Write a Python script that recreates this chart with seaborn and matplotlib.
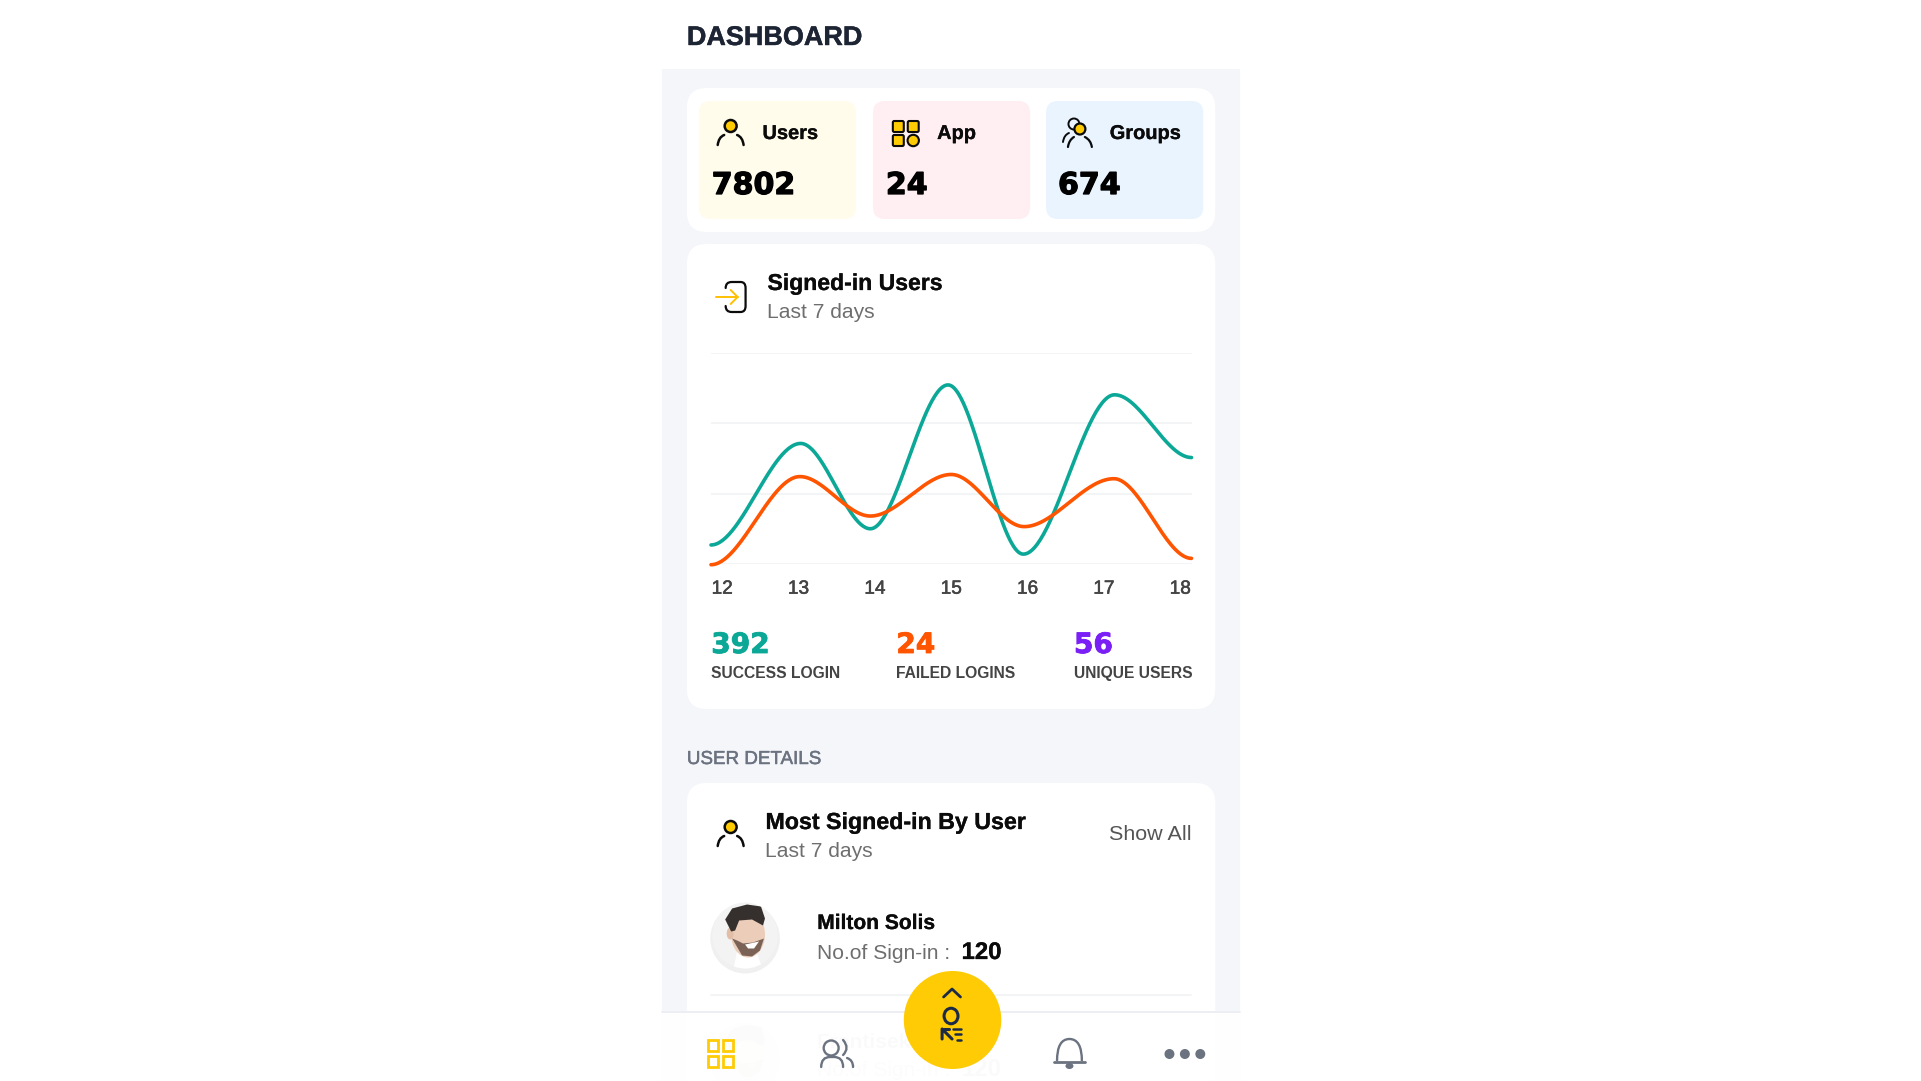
import numpy as np
import pandas as pd
import matplotlib
matplotlib.use("Agg")
import matplotlib.pyplot as plt
import seaborn as sns
from matplotlib.patches import FancyBboxPatch, Circle, Ellipse, PathPatch, Polygon
from matplotlib.path import Path
import matplotlib.patheffects as pe

# ---- data ----
tile_labels = ["Users", "App", "Groups"]
tile_values = ["7802", "24", "674"]
day_labels = ["12", "13", "14", "15", "16", "17", "18"]
success_days = [12.0, 13.12, 13.99, 14.96, 15.90, 17.04, 18.0]
success_vals = [27, 171, 50, 254, 14, 240, 151]
failed_days = [12.0, 13.11, 13.99, 15.0, 15.91, 17.03, 18.0]
failed_vals = [-1, 124, 68, 127, 53, 121, 8]
grid_vals = [0, 100, 200, 300]
stat_values = ["392", "24", "56"]
stat_labels = ["SUCCESS LOGIN", "FAILED LOGINS", "UNIQUE USERS"]

TEAL, ORANGE, PURPLE = "#0CA897", "#FF5400", "#7A1FF6"
YEL = "#FFCB05"
INK = "#0B0B0B"
GREY = "#6E6E6E"
NAVY = "#1C2B45"
SLATE = "#6B7280"

sns.set_theme(style="white")
plt.rcParams["font.family"] = ["Liberation Sans", "DejaVu Sans"]

W, H = 1921, 1081
fig = plt.figure(figsize=(W / 100, H / 100), dpi=100, facecolor="white")

def overlay(z):
    a = fig.add_axes([0, 0, 1, 1], zorder=z)
    a.set_xlim(-3.3, 1927.3)
    a.set_ylim(H, 0)
    a.axis("off")
    a.patch.set_alpha(0)
    return a

bg = overlay(0)
top = overlay(2)

def rrect(a, x0, y0, x1, y1, r, fc, **k):
    p = FancyBboxPatch((x0 + r, y0 + r), x1 - x0 - 2 * r, y1 - y0 - 2 * r,
                       boxstyle=f"round,pad={r},rounding_size={r}", fc=fc, ec="none", **k)
    a.add_patch(p)
    return p

def txt(a, x, y, s, px, color=INK, weight="normal", heavy=0.0, ha="left", **k):
    t = a.text(x, y, s, fontsize=px * 0.72, color=color, fontweight=weight,
               ha=ha, va="baseline", **k)
    if heavy:
        t.set_path_effects([pe.withStroke(linewidth=heavy, foreground=color)])
    return t

def curve(a, p0, c, p1, color=INK, lw=2.2, **k):
    a.add_patch(PathPatch(Path([p0, c, p1], [Path.MOVETO, Path.CURVE3, Path.CURVE3]),
                          fc="none", ec=color, lw=lw, capstyle="round", **k))

def person(a, x, y, color=INK, fill=YEL, r=6.0, lw=1.8):
    a.add_patch(Circle((x, y), r, fc=fill, ec=color, lw=lw))
    curve(a, (x - 13, y + 19), (x - 12, y + 11), (x - 6.5, y + 9), color, lw)
    curve(a, (x + 13, y + 19), (x + 12, y + 11), (x + 6.5, y + 9), color, lw)

# ---- page ----
rrect(bg, 662, 69, 1243, 1090, 0.01, "#F5F6FA")
txt(bg, 687, 45, "DASHBOARD", 27, color="#1D2433", weight="bold", heavy=0.3)

# tiles
rrect(bg, 687, 88, 1218, 232, 20, "white")
tile_boxes = [(699, 857, "#FFFCEC"), (874, 1032, "#FFEFF2"), (1048, 1206, "#E9F4FF")]
label_x = [763, 938.5, 1112]
value_x = [712, 887, 1060]
for (x0, x1, c), lab, val, lx, vx in zip(tile_boxes, tile_labels, tile_values, label_x, value_x):
    rrect(bg, x0, 101, x1, 219, 12, c)
    txt(bg, lx, 139, lab, 20, weight="bold", heavy=0.2)
    txt(bg, vx, 194, val, 30, color="black", weight="bold", heavy=0.9, family="DejaVu Sans")

person(bg, 731, 126)
# app icon
for (x, y) in [(894, 121), (909, 121), (894, 135)]:
    p = rrect(bg, x, y, x + 11, y + 11, 1.5, YEL)
    p.set_edgecolor(INK)
    p.set_linewidth(1.5)
bg.add_patch(Circle((914.5, 140.5), 5.7, fc=YEL, ec=INK, lw=1.5))
# groups icon
bg.add_patch(Circle((1076, 124), 5.5, fc="none", ec=INK, lw=1.4))
bg.add_patch(Circle((1082, 129), 5.5, fc=YEL, ec=INK, lw=1.6))
curve(bg, (1070, 147), (1071, 140), (1076, 137), INK, 1.6)
curve(bg, (1094, 147), (1093, 140), (1087, 137), INK, 1.6)
curve(bg, (1065, 142), (1066, 135), (1071, 133), INK, 1.4)

# signed-in card
rrect(bg, 687, 244, 1218, 709, 20, "white")
phone = Path([(726, 288), (726, 282), (732, 282), (741, 282), (746, 282), (746, 288),
              (746, 306), (746, 312), (741, 312), (732, 312), (726, 312), (726, 306)],
             [1, 3, 3, 2, 3, 3, 2, 3, 3, 2, 3, 3])
bg.add_patch(PathPatch(phone, fc="none", ec=INK, lw=1.6, capstyle="round"))
bg.add_patch(plt.Rectangle((722, 291), 8, 12, fc="white", ec="none"))
bg.plot([716, 738], [297, 297], color="#FFC000", lw=1.4, solid_capstyle="round")
bg.plot([731, 738, 731], [290, 297, 304], color="#FFC000", lw=1.4, solid_capstyle="round")
txt(bg, 768, 290, "Signed-in Users", 23, weight="bold", heavy=0.2)
txt(bg, 768, 318, "Last 7 days", 21, color=GREY)

# ---- chart ----
ax = fig.add_axes([711 / W, 1 - 564 / H, 480.5 / W, 211.5 / H], zorder=1)
ax.patch.set_alpha(0)

def smooth(xs, ys, n=60):
    """Flat-tangent curve through the read points (the chart's smoothed line)."""
    X, Y = [], []
    for i in range(len(xs) - 1):
        t = np.linspace(0, 1, n)
        X.append(xs[i] + (xs[i + 1] - xs[i]) * t)
        Y.append(ys[i] + (ys[i + 1] - ys[i]) * t * t * (3 - 2 * t))
    return np.concatenate(X), np.concatenate(Y)

sx, sy = smooth(success_days, success_vals)
fx, fy = smooth(failed_days, failed_vals)
df = pd.concat([
    pd.DataFrame({"day": sx, "value": sy, "series": "success"}),
    pd.DataFrame({"day": fx, "value": fy, "series": "failed"}),
])
sns.lineplot(data=df, x="day", y="value", hue="series", sort=False, estimator=None,
             palette={"success": TEAL, "failed": ORANGE}, linewidth=2.6, legend=False,
             ax=ax, clip_on=False, zorder=3)
ax.set_xlim(12, 18)
ax.set_ylim(0, 300)
inset = 0.14
ax.set_xticks(np.linspace(12 + inset, 18 - inset, len(day_labels)))
ax.set_xticklabels(day_labels, fontsize=13.7, color="#444444",
                   path_effects=[pe.withStroke(linewidth=0.4, foreground="#444444")])
ax.set_yticks(grid_vals)
ax.set_yticklabels([])
ax.set_xlabel("")
ax.set_ylabel("")
ax.tick_params(axis="both", length=0)
ax.tick_params(axis="x", pad=12)
ax.grid(axis="y", color="#F1F2F4", lw=1.2)
ax.grid(axis="x", visible=False)
ax.set_axisbelow(True)
sns.despine(ax=ax, left=True, bottom=True)

# stats under chart
for x, v, l, c in zip([711.5, 897.5, 1076], stat_values, stat_labels, [TEAL, ORANGE, PURPLE]):
    txt(bg, x, 653, v, 28, color=c, weight="bold", heavy=0.6, family="DejaVu Sans")
    txt(bg, x, 678, l, 15.6, color="#444444", weight="bold")

# user details
txt(bg, 687, 764, "USER DETAILS", 18.8, color=SLATE, heavy=0.35)
rrect(bg, 687, 783, 1218, 1100, 20, "white")
person(bg, 731, 827)
txt(bg, 766, 829, "Most Signed-in By User", 23.2, weight="bold", heavy=0.2)
txt(bg, 766, 857, "Last 7 days", 21, color=GREY)
txt(bg, 1194, 840, "Show All", 21.5, color="#555555", ha="right")

def avatar(a, cx, cy, alpha=1.0):
    clip = Circle((cx, cy), 33, transform=a.transData)
    a.add_patch(Circle((cx, cy + 3), 35, fc="#000000", ec="none", alpha=0.06 * alpha))
    a.add_patch(Circle((cx, cy), 33, fc="#F3F3F3", ec="none", alpha=alpha))
    parts = [
        Polygon([(cx - 12, cy + 35), (cx - 8, cy + 16), (cx + 12, cy + 18), (cx + 18, cy + 35)],
                fc="white", ec="none", alpha=alpha),
        Ellipse((cx + 3, cy - 1), 34, 46, fc="#EBCDB9", ec="none", alpha=alpha),
        Ellipse((cx - 15, cy - 2), 7, 12, fc="#E2BEA8", ec="none", alpha=alpha),
        Polygon([(cx - 13, cy + 3), (cx - 8, cy + 5), (cx - 2, cy + 8), (cx + 8, cy + 7), (cx + 19, cy + 3),
                 (cx + 15, cy + 15), (cx + 7, cy + 21), (cx - 3, cy + 20)],
                fc="#7A6356", ec="none", alpha=alpha),
        Polygon([(cx, cy + 9), (cx + 14, cy + 6), (cx + 9, cy + 13), (cx + 3, cy + 13)],
                fc="white", ec="none", alpha=alpha),
        Polygon([(cx - 14, cy - 4), (cx - 20, cy - 16), (cx - 13, cy - 27), (cx + 2, cy - 31), (cx + 16, cy - 29),
                 (cx + 20, cy - 17), (cx + 18, cy - 10), (cx + 7, cy - 16), (cx - 6, cy - 15), (cx - 10, cy - 5)],
                fc="#35302D", ec="none", alpha=alpha),
    ]
    for p in parts:
        a.add_patch(p)
        p.set_clip_path(clip)

avatar(bg, 745.5, 935.5)
txt(bg, 818, 929, "Milton Solis", 21, weight="bold", heavy=0.2)
txt(bg, 818, 959, "No.of Sign-in :", 21, color=GREY)
txt(bg, 963, 959, "120", 24, weight="bold", heavy=0.2)
bg.plot([711, 1194], [995, 995], color="#F1F2F4", lw=1.2)
# row scrolled under the translucent bar
avatar(bg, 745.5, 1056, alpha=0.35)
FAINT = 0.4
txt(bg, 818, 1048, "Frantisek Kolesky", 21, weight="bold", alpha=FAINT)
txt(bg, 818, 1076, "No.of Sign-in :", 21, color=GREY, alpha=FAINT)
txt(bg, 963, 1076, "120", 24, weight="bold", alpha=FAINT)

# ---- bottom bar ----
top.add_patch(plt.Rectangle((662, 1012), 581, 75, fc="white", ec="none", alpha=0.96, zorder=0.2))
top.plot([662, 1243], [1012, 1012], color="#ECEEF3", lw=1.4, zorder=0.3)
for (x, y) in [(708, 1040), (723, 1040), (708, 1056), (723, 1056)]:
    top.add_patch(plt.Rectangle((x, y), 10.5, 10.5, fc="none", ec=YEL, lw=2.0))
# people icon
top.add_patch(Circle((832, 1048), 7.5, fc="none", ec=SLATE, lw=1.7))
curve(top, (844, 1040), (851, 1048), (844, 1055), SLATE, 1.7)
top.add_patch(PathPatch(Path([(822, 1067), (822, 1057), (831, 1057), (835, 1057), (844, 1057), (844, 1067)],
                             [1, 3, 3, 2, 3, 3]), fc="none", ec=SLATE, lw=1.7, capstyle="round"))
curve(top, (848, 1058), (854, 1060), (854, 1067), SLATE, 1.7)
# bell
top.add_patch(PathPatch(Path([(1059, 1061), (1059, 1039), (1071.5, 1039), (1084, 1039), (1084, 1061)],
                             [1, 3, 3, 3, 3]), fc="none", ec=SLATE, lw=1.7))
top.plot([1056, 1087], [1062, 1062], color=SLATE, lw=2.0, solid_capstyle="round")
top.add_patch(Ellipse((1071.5, 1066), 8, 6, fc=SLATE, ec="none"))
# dots
for x in [1172, 1187.5, 1203]:
    top.add_patch(Circle((x, 1054), 5, fc=SLATE, ec="none"))
# yellow button
top.add_patch(Circle((954, 1020), 49, fc=YEL, ec="none", zorder=1))
top.plot([945, 953.5, 962], [997, 989, 997], color=NAVY, lw=2.0, solid_capstyle="round", zorder=3)
top.add_patch(Ellipse((952.5, 1016), 14, 15.5, fc="none", ec=NAVY, lw=2.2, zorder=3))
top.plot([943.5, 943.5, 953.5], [1039, 1029, 1039], color=NAVY, lw=2.2, zorder=3)
top.plot([943.5, 950], [1029, 1029], color=NAVY, lw=2.2, zorder=3)
for y, x0 in [(1029, 954), (1034, 956), (1039.5, 958)]:
    top.plot([x0, 962], [y, y], color=NAVY, lw=1.8, zorder=3)

fig.savefig("out.png", dpi=100, facecolor="white")
